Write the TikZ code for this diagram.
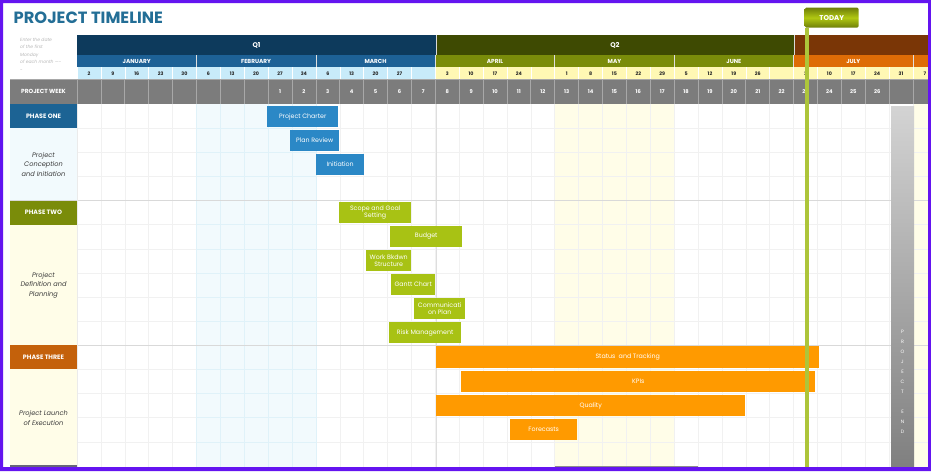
\documentclass[tikz,border=0pt]{standalone}
\usepackage{fontspec}
\setmainfont{Poppins}
\usetikzlibrary{calc}
\definecolor{framec}{HTML}{6414F0}
\definecolor{titleblue}{HTML}{236E96}
\definecolor{qone}{HTML}{0D3A5C}
\definecolor{qtwo}{HTML}{3E4A02}
\definecolor{qthree}{HTML}{7A3606}
\definecolor{mone}{HTML}{1D6196}
\definecolor{mtwo}{HTML}{7A8C0A}
\definecolor{mthree}{HTML}{DE6C06}
\definecolor{done}{HTML}{C8EBFA}
\definecolor{dtwo}{HTML}{FFF8B4}
\definecolor{weekgray}{HTML}{7C7C7C}
\definecolor{weekline}{HTML}{A8A8A8}
\definecolor{ponehead}{HTML}{1C6394}
\definecolor{ptwohead}{HTML}{7A8C0A}
\definecolor{pthreehead}{HTML}{C4610B}
\definecolor{tintblue}{HTML}{F2FAFD}
\definecolor{tintyellow}{HTML}{FFFDE8}
\definecolor{barblue}{HTML}{2B88C6}
\definecolor{bargreen}{HTML}{A8C214}
\definecolor{barorange}{HTML}{FF9A00}
\definecolor{todayline}{HTML}{ADC53A}
\definecolor{gridc}{HTML}{F1F1F1}
\definecolor{gridblue}{HTML}{E0F2F9}
\definecolor{desctext}{HTML}{3C3C3C}
\def\cw{23.886}
\def\rh{24.133}
\begin{document}
\begin{tikzpicture}[x=1pt,y=-1pt,
  bar/.style={anchor=north west, inner sep=0pt, minimum height=21.5pt, text=white,
    font=\fontsize{6.3}{7}\selectfont, align=center},
  bluebar/.style={bar, fill=barblue},
  greenbar/.style={bar, fill=bargreen},
  orangebar/.style={bar, fill=barorange},
  headtxt/.style={text=white, font=\bfseries\fontsize{6.3}{7}\selectfont, inner sep=0pt},
  datetxt/.style={text=black!85, font=\bfseries\fontsize{4.8}{5}\selectfont, inner sep=0pt},
  weektxt/.style={text=white, font=\bfseries\fontsize{5.2}{6}\selectfont, inner sep=0pt},
  desc/.style={text=desctext, font=\itshape\fontsize{6.6}{9.6}\selectfont, align=center, inner sep=0pt},
  gridline/.style={draw=gridc, line width=0.5pt},
]
\useasboundingbox (0,0) rectangle (931,471);
\fill[white] (0,0) rectangle (931,471);

\begin{scope}
\clip (3,3) rectangle (928,467);

% title
\node[anchor=west, text=titleblue, font=\bfseries\fontsize{16.3}{19}\selectfont, inner sep=0pt] (title) at (13.5,17.5) {PROJECT TIMELINE};

% instruction text
\node[anchor=north west, text=black!28, font=\itshape\fontsize{4.5}{7.4}\selectfont, align=left, inner sep=0pt] (hint) at (20,38)
  {Enter the date\\of the first\\Monday\\of each month ----\\-};

% quarter row
\fill[qone] (77,35) rectangle (436,55);
\fill[qtwo] (436,35) rectangle (794,55);
\fill[qthree] (794,35) rectangle (930,55);
\draw[white!70!gray, line width=0.5pt] (436,35) -- (436,55) (794,35) -- (794,55);
\node[headtxt, font=\bfseries\fontsize{6.8}{8}\selectfont] (q1) at (256.5,45) {Q1};
\node[headtxt, font=\bfseries\fontsize{6.8}{8}\selectfont] (q2) at (615,45) {Q2};

% month row
\fill[mone] (77,55) rectangle (436,67);
\fill[mtwo] (436,55) rectangle (794,67);
\fill[mthree] (794,55) rectangle (930,67);
\foreach \i/\mn in {0/JANUARY,5/FEBRUARY,10/MARCH,15/APRIL,20/MAY,25/JUNE,30/JULY}{
  \node[headtxt, font=\bfseries\fontsize{5.8}{6}\selectfont] (m\i) at ({77+(\i+2.5)*\cw},61) {\mn};
}
\foreach \i in {5,10,...,35}{
  \draw[white!75!gray, line width=0.5pt] ({77+\i*\cw},55) -- ({77+\i*\cw},67);
}

% date row
\fill[done] (77,67) rectangle (436,79);
\fill[dtwo] (436,67) rectangle (930,79);
\foreach \d [count=\c from 0] in {2,9,16,23,30,6,13,20,27,34,6,13,20,27,{},3,10,17,24,{},1,8,15,22,29,5,12,19,26,{},3,10,17,24,31,7}{
  \node[datetxt] (d\c) at ({77+(\c+0.5)*\cw},73.3) {\d};
  \draw[white, line width=0.5pt] ({77+\c*\cw},67) -- ({77+\c*\cw},79);
}

% project week row
\fill[weekgray] (10,79) rectangle (930,103.5);
\node[headtxt, font=\bfseries\fontsize{5.9}{7}\selectfont] (pw) at (43.5,91.5) {PROJECT WEEK};
\foreach \c in {0,...,35}{
  \draw[weekline, line width=0.7pt] ({77+\c*\cw},79) -- ({77+\c*\cw},103.5);
}
\draw[weekline, line width=0.7pt] (10,79) -- (930,79);
\foreach \c in {8,...,33}{
  \pgfmathtruncatemacro\wk{\c-7}
  \node[weektxt] (w\c) at ({77+(\c+0.5)*\cw},91.5) {\wk};
}

% body backgrounds
\fill[tintblue] (10,128) rectangle (77,200.5);
\fill[tintyellow] (10,224.6) rectangle (77,345.3);
\fill[tintyellow] (10,369.4) rectangle (77,467);
\fill[tintblue] (197,104) rectangle (316,467);
\fill[tintyellow] (555,104) rectangle (675,467);
\fill[tintyellow] (913,104) rectangle (930,467);

% grid
\foreach \c in {0,...,35}{
  \draw[gridline] ({77+\c*\cw},104) -- ({77+\c*\cw},467);
}
\foreach \r in {1,...,14}{
  \draw[gridline] (77,{104+\r*\rh}) -- (930,{104+\r*\rh});
}
\foreach \c in {5,...,10}{
  \draw[draw=gridblue, line width=0.5pt] ({77+\c*\cw},104) -- ({77+\c*\cw},467);
}
\foreach \r in {1,...,14}{
  \draw[draw=gridblue, line width=0.5pt] (197,{104+\r*\rh}) -- (316,{104+\r*\rh});
}
\draw[black!13, line width=0.6pt] (436,104) -- (436,467);
\draw[black!15, line width=0.7pt] (10,200.5) -- (930,200.5);
\draw[black!15, line width=0.7pt] (10,345.3) -- (930,345.3);
\draw[black!8, line width=0.5pt] (77,104) -- (77,467);

% phase headers
\fill[ponehead] (10,104) rectangle (77,128);
\fill[ptwohead] (10,200.5) rectangle (77,224.6);
\fill[pthreehead] (10,345.3) rectangle (77,369.4);
\node[headtxt] (p1) at (43.5,116) {PHASE ONE};
\node[headtxt] (p2) at (43.5,212.5) {PHASE TWO};
\node[headtxt] (p3) at (43.5,357.3) {PHASE THREE};
\node[desc] (p1d) at (43.5,164.5) {Project\\Conception\\and Initiation};
\node[desc] (p2d) at (43.5,285) {Project\\Definition and\\Planning};
\node[desc] (p3d) at (43.5,418) {Project Launch\\of Execution};

% next-phase strips peeking at the bottom
\fill[black!62!blue!20!gray] (10,465) rectangle (77,468);
\fill[black!45] (555,465.5) rectangle (698,468);

% bars
\node[bluebar, minimum width=71pt] (b1) at (267,105.5) {Project Charter};
\node[bluebar, minimum width=49pt] (b2) at (290,129.5) {Plan Review};
\node[bluebar, minimum width=48pt] (b3) at (316,153.5) {Initiation};
\node[greenbar, minimum width=72pt] (g1) at (339,201.5) {Scope and Goal\\Setting};
\node[greenbar, minimum width=72pt] (g2) at (390,225.5) {Budget};
\node[greenbar, minimum width=45pt] (g3) at (366,249.5) {Work Bkdwn\\Structure};
\node[greenbar, minimum width=44pt] (g4) at (391,273.5) {Gantt Chart};
\node[greenbar, minimum width=51pt] (g5) at (414,297.5) {Communicati\\on Plan};
\node[greenbar, minimum width=72pt] (g6) at (389,321.5) {Risk Management};
\node[orangebar, minimum width=383pt] (o1) at (436,346) {Status\ \ and Tracking};
\node[orangebar, minimum width=354pt] (o2) at (461,370.5) {KPIs};
\node[orangebar, minimum width=309pt] (o3) at (436,394.5) {Quality};
\node[orangebar, minimum width=67pt] (o4) at (510,418.5) {Forecasts};

% project end bar
\shade[top color=black!17, bottom color=black!50] (891,106) rectangle (914,467);
\foreach \l [count=\k from 0] in {P,R,O,J,E,C,T,{},E,N,D}{
  \node[text=white, font=\fontsize{4.8}{5}\selectfont, inner sep=0pt] (pe\k) at (902.5,{332+\k*10}) {\l};
}

% today marker
\coordinate (todaybot) at (806.5,467);
\node[anchor=north west, minimum width=54pt, minimum height=20pt, inner sep=0pt, rounded corners=1.5pt,
  top color=mtwo!90!black, bottom color=mtwo!90!black, middle color=bargreen!90!yellow,
  text=white, font=\bfseries\fontsize{7}{8}\selectfont] (today) at (804.5,7.5) {TODAY};
\draw[todayline, line width=4pt] (today.south west -| todaybot) -- (todaybot);
\end{scope}

% purple frame
\fill[framec, even odd rule] (0,0) rectangle (931,471) (3,3) rectangle (928,467);
\end{tikzpicture}
\end{document}
